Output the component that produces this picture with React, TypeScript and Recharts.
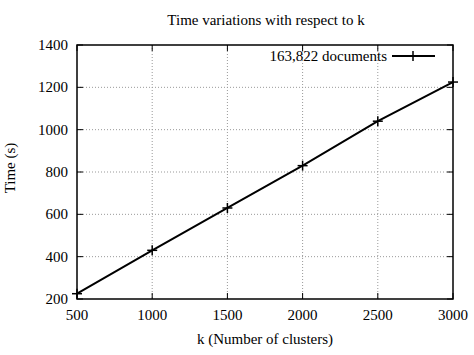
import React from "react";
import { LineChart, Line, CartesianGrid, XAxis, YAxis } from "recharts";

const clusters = [500, 1000, 1500, 2000, 2500, 3000];
const times = [225, 430, 630, 830, 1040, 1225];
const xTicks = [500, 1000, 1500, 2000, 2500, 3000];
const yTicks = [200, 400, 600, 800, 1000, 1200, 1400];
const seriesName = "163,822 documents";

const FONT = "'Liberation Serif', 'Times New Roman', serif";

const chartData = clusters.map((k, i) => ({ k, time: times[i] }));

// gnuplot-style "+" marker
function PlusDot(props: any) {
  const { cx, cy } = props;
  if (cx == null || cy == null) return null;
  return (
    <g>
      <line x1={cx - 5} y1={cy} x2={cx + 5} y2={cy} stroke="#000" strokeWidth={1.5} />
      <line x1={cx} y1={cy - 5} x2={cx} y2={cy + 5} stroke="#000" strokeWidth={1.5} />
    </g>
  );
}

// ticks drawn inward, mirrored on the opposite side
function XTick(props: any) {
  const { x, y, payload } = props;
  return (
    <g>
      <line x1={x} y1={y} x2={x} y2={y - 6} stroke="#000" />
      <line x1={x} y1={45} x2={x} y2={51} stroke="#000" />
      <text x={x} y={y + 21} textAnchor="middle" fontFamily={FONT} fontSize={15} fill="#000">
        {payload.value}
      </text>
    </g>
  );
}

function YTick(props: any) {
  const { x, y, payload } = props;
  return (
    <g>
      <line x1={x} y1={y} x2={x + 6} y2={y} stroke="#000" />
      <line x1={453} y1={y} x2={447} y2={y} stroke="#000" />
      <text x={x - 9} y={y + 5} textAnchor="end" fontFamily={FONT} fontSize={15} fill="#000">
        {payload.value}
      </text>
    </g>
  );
}

function LegendBox() {
  return (
    <g>
      <text x={387} y={61} textAnchor="end" fontFamily={FONT} fontSize={15} fill="#000">
        {seriesName}
      </text>
      <line x1={392} y1={56} x2={435} y2={56} stroke="#000" strokeWidth={2} />
      <line x1={408} y1={56} x2={418} y2={56} stroke="#000" strokeWidth={1.5} />
      <line x1={413} y1={51} x2={413} y2={61} stroke="#000" strokeWidth={1.5} />
    </g>
  );
}

export default function App() {
  return (
    <div style={{ position: "absolute", left: 0, top: 0, width: 474, height: 355, background: "#fff" }}>
      <LineChart width={474} height={355} data={chartData} margin={{ top: 45, right: 21, bottom: 26, left: 20 }}>
        <CartesianGrid stroke="#999" strokeDasharray="1 2" verticalValues={[1000, 1500, 2000, 2500]} horizontalValues={[400, 600, 800, 1000, 1200]} />
        <XAxis
          dataKey="k"
          type="number"
          domain={[500, 3000]}
          ticks={xTicks}
          height={30}
          axisLine={false}
          tickLine={false}
          tickSize={0}
          tickMargin={0}
          tick={<XTick />}
          interval={0}
        />
        <YAxis
          type="number"
          domain={[200, 1400]}
          ticks={yTicks}
          width={57}
          axisLine={false}
          tickLine={false}
          tickSize={0}
          tickMargin={0}
          tick={<YTick />}
          interval={0}
        />
        <Line
          type="linear"
          dataKey="time"
          name={seriesName}
          stroke="#000"
          strokeWidth={2}
          dot={<PlusDot />}
          isAnimationActive={false}
        />
        <rect x={77} y={45} width={376} height={254} fill="none" stroke="#000" strokeWidth={1.5} />
        <LegendBox />
        <text x={266} y={25} textAnchor="middle" fontFamily={FONT} fontSize={15} fill="#000">
          Time variations with respect to k
        </text>
        <text x={265} y={344} textAnchor="middle" fontFamily={FONT} fontSize={15} fill="#000">
          k (Number of clusters)
        </text>
        <text
          x={15}
          y={168}
          textAnchor="middle"
          fontFamily={FONT}
          fontSize={15}
          fill="#000"
          transform="rotate(-90 15 168)"
        >
          Time (s)
        </text>
      </LineChart>
    </div>
  );
}
